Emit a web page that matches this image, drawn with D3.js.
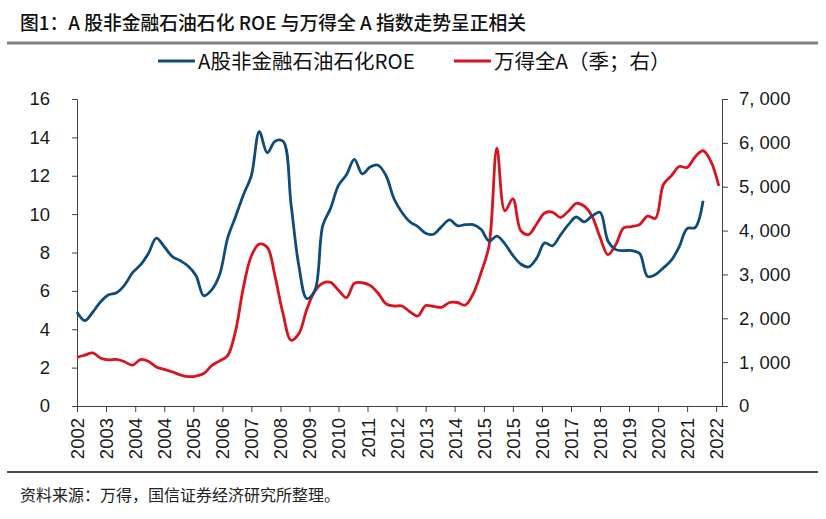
<!DOCTYPE html>
<html>
<head>
<meta charset="utf-8">
<script src="https://cdn.jsdelivr.net/npm/d3@7"></script>
<style>
  body { margin: 0; background: #fff; }
  svg { display: block; }
  .axis path, .axis line { stroke: #404040; }
  .axis text { font-family: "Liberation Sans", Arial, sans-serif; font-size: 18.5px; fill: #1a1a1a; }
</style>
</head>
<body>
<script>
var width = 826,
  height = 519;

// 季度序列，2002Q1 起
var roe = [
  4.9, 4.45, 4.9, 5.45, 5.8, 5.9, 6.3, 6.95, 7.35, 7.95,
  8.75, 8.3, 7.8, 7.58, 7.3, 6.8, 5.75, 6.05, 6.85, 8.75,
  9.85, 11.0, 12.0, 14.3, 13.2, 13.8, 13.8, 10.5, 7.3, 5.6,
  6.0, 9.4, 10.3, 11.5, 12.05, 12.85, 12.1, 12.45, 12.55, 12.0,
  10.8, 10.1, 9.6, 9.35, 9.0, 8.95, 9.35, 9.7, 9.4, 9.45,
  9.45, 9.2, 8.6, 8.85, 8.45, 7.85, 7.4, 7.25, 7.7, 8.5,
  8.35, 8.9, 9.45, 9.85, 9.6, 9.9, 10.1, 8.6, 8.15, 8.1,
  8.1, 7.95, 6.75, 6.85, 7.2, 7.6, 8.3, 9.25, 9.3, 10.7
];

var windA = [
  1110, 1160, 1210, 1090, 1050, 1065, 1010, 930, 1060, 1020,
  890, 835, 780, 710, 670, 680, 740, 920, 1030, 1150,
  1700, 2700, 3420, 3690, 3620, 2950, 2100, 1500, 1650, 2200,
  2620, 2800, 2820, 2640, 2470, 2800, 2810, 2750, 2570, 2330,
  2280, 2280, 2150, 2050, 2290, 2270, 2250, 2360, 2360, 2300,
  2560, 3050, 3650, 5880, 4450, 4720, 4000, 3910, 4150, 4400,
  4420, 4300, 4440, 4620, 4560, 4330, 3850, 3450, 3680, 4060,
  4090, 4140, 4330, 4280, 5050, 5250, 5460, 5440, 5680, 5820,
  5580, 5020
];

var tickLabels = ["2002", "2003", "2004", "2004", "2005", "2006", "2007", "2008",
  "2009", "2010", "2011", "2012", "2013", "2014", "2015", "2015", "2016",
  "2017", "2018", "2019", "2020", "2021", "2022"];

var leftTicks = [0, 2, 4, 6, 8, 10, 12, 14, 16];
var rightTicks = [0, 1000, 2000, 3000, 4000, 5000, 6000, 7000];

// 季末日期
var quarterDate = q => new Date(2002, 3 * q + 3, 0);
// 轴刻度每 11 个月一个
var tickDates = tickLabels.map((d, i) => new Date(2002, 3 + 11 * i, 0));

var svg = d3.select("body").append("svg")
  .attr("width", width)
  .attr("height", height);

var plotLeft = 77, plotRight = 722, plotTop = 99, plotBottom = 406;

var x = d3.scaleTime()
  .domain([new Date(2002, 3, 0), new Date(2022, 7, 6)])
  .range([plotLeft, plotRight]);

var yL = d3.scaleLinear().domain([0, 16]).range([plotBottom, plotTop]);
var yR = d3.scaleLinear().domain([0, 7000]).range([plotBottom, plotTop]);

// 标题
svg.append("text")
  .attr("x", 20)
  .attr("y", 30)
  .attr("font-family", "Noto Sans CJK SC")
  .attr("font-size", 18.8)
  .attr("font-weight", 500)
  .attr("fill", "#111")
  .text("图1：A 股非金融石油石化 ROE 与万得全 A 指数走势呈正相关");

svg.append("line")
  .attr("x1", 7).attr("x2", 818)
  .attr("y1", 43).attr("y2", 43)
  .attr("stroke", "#808080")
  .attr("stroke-width", 2.8);

// 图例
var legend = [
  { name: "A股非金融石油石化ROE", color: "#0f4c7c", x: 158 },
  { name: "万得全A（季；右）", color: "#d7141f", x: 454 }
];
var lg = svg.append("g").selectAll("g")
  .data(legend)
  .enter().append("g");
lg.append("line")
  .attr("x1", d => d.x).attr("x2", d => d.x + 37)
  .attr("y1", 61).attr("y2", 61)
  .attr("stroke", d => d.color)
  .attr("stroke-width", 3);
lg.append("text")
  .attr("x", d => d.x + 40)
  .attr("y", 69)
  .attr("font-family", "Noto Sans CJK SC")
  .attr("font-size", 20.5)
  .attr("fill", "#111")
  .text(d => d.name);

// 坐标轴
svg.append("g")
  .attr("class", "axis")
  .attr("transform", "translate(" + plotLeft + ",0)")
  .call(d3.axisLeft(yL).tickValues(leftTicks).tickSize(5).tickPadding(22).tickSizeOuter(0));

svg.append("g")
  .attr("class", "axis")
  .attr("transform", "translate(" + plotRight + ",0)")
  .call(d3.axisRight(yR).tickValues(rightTicks).tickSize(6).tickPadding(11).tickSizeOuter(0)
    .tickFormat(d => d3.format(",")(d).replace(",", ", ")));

var xAxis = svg.append("g")
  .attr("class", "axis")
  .attr("transform", "translate(0," + plotBottom + ")")
  .call(d3.axisBottom(x).tickValues(tickDates).tickSize(6).tickSizeOuter(0)
    .tickFormat((d, i) => tickLabels[i]));

xAxis.selectAll("text")
  .attr("transform", "rotate(-90)")
  .attr("text-anchor", "end")
  .attr("x", -12)
  .attr("y", 0)
  .attr("dy", "0.35em");

// 折线
var lineL = d3.line()
  .x((d, i) => x(quarterDate(i)))
  .y(d => yL(d))
  .curve(d3.curveCatmullRom.alpha(0.5));

var lineR = d3.line()
  .x((d, i) => x(quarterDate(i)))
  .y(d => yR(d))
  .curve(d3.curveCatmullRom.alpha(0.5));

svg.append("path")
  .datum(windA)
  .attr("d", lineR)
  .attr("fill", "none")
  .attr("stroke", "#d7141f")
  .attr("stroke-width", 2.8);

svg.append("path")
  .datum(roe)
  .attr("d", lineL)
  .attr("fill", "none")
  .attr("stroke", "#0f4c7c")
  .attr("stroke-width", 2.8);

// 底部
svg.append("line")
  .attr("x1", 7).attr("x2", 818)
  .attr("y1", 472).attr("y2", 472)
  .attr("stroke", "#111")
  .attr("stroke-width", 1.5);

svg.append("text")
  .attr("x", 20)
  .attr("y", 501)
  .attr("font-family", "Noto Sans CJK SC")
  .attr("font-size", 16)
  .attr("fill", "#222")
  .text("资料来源：万得，国信证券经济研究所整理。");
</script>
</body>
</html>
